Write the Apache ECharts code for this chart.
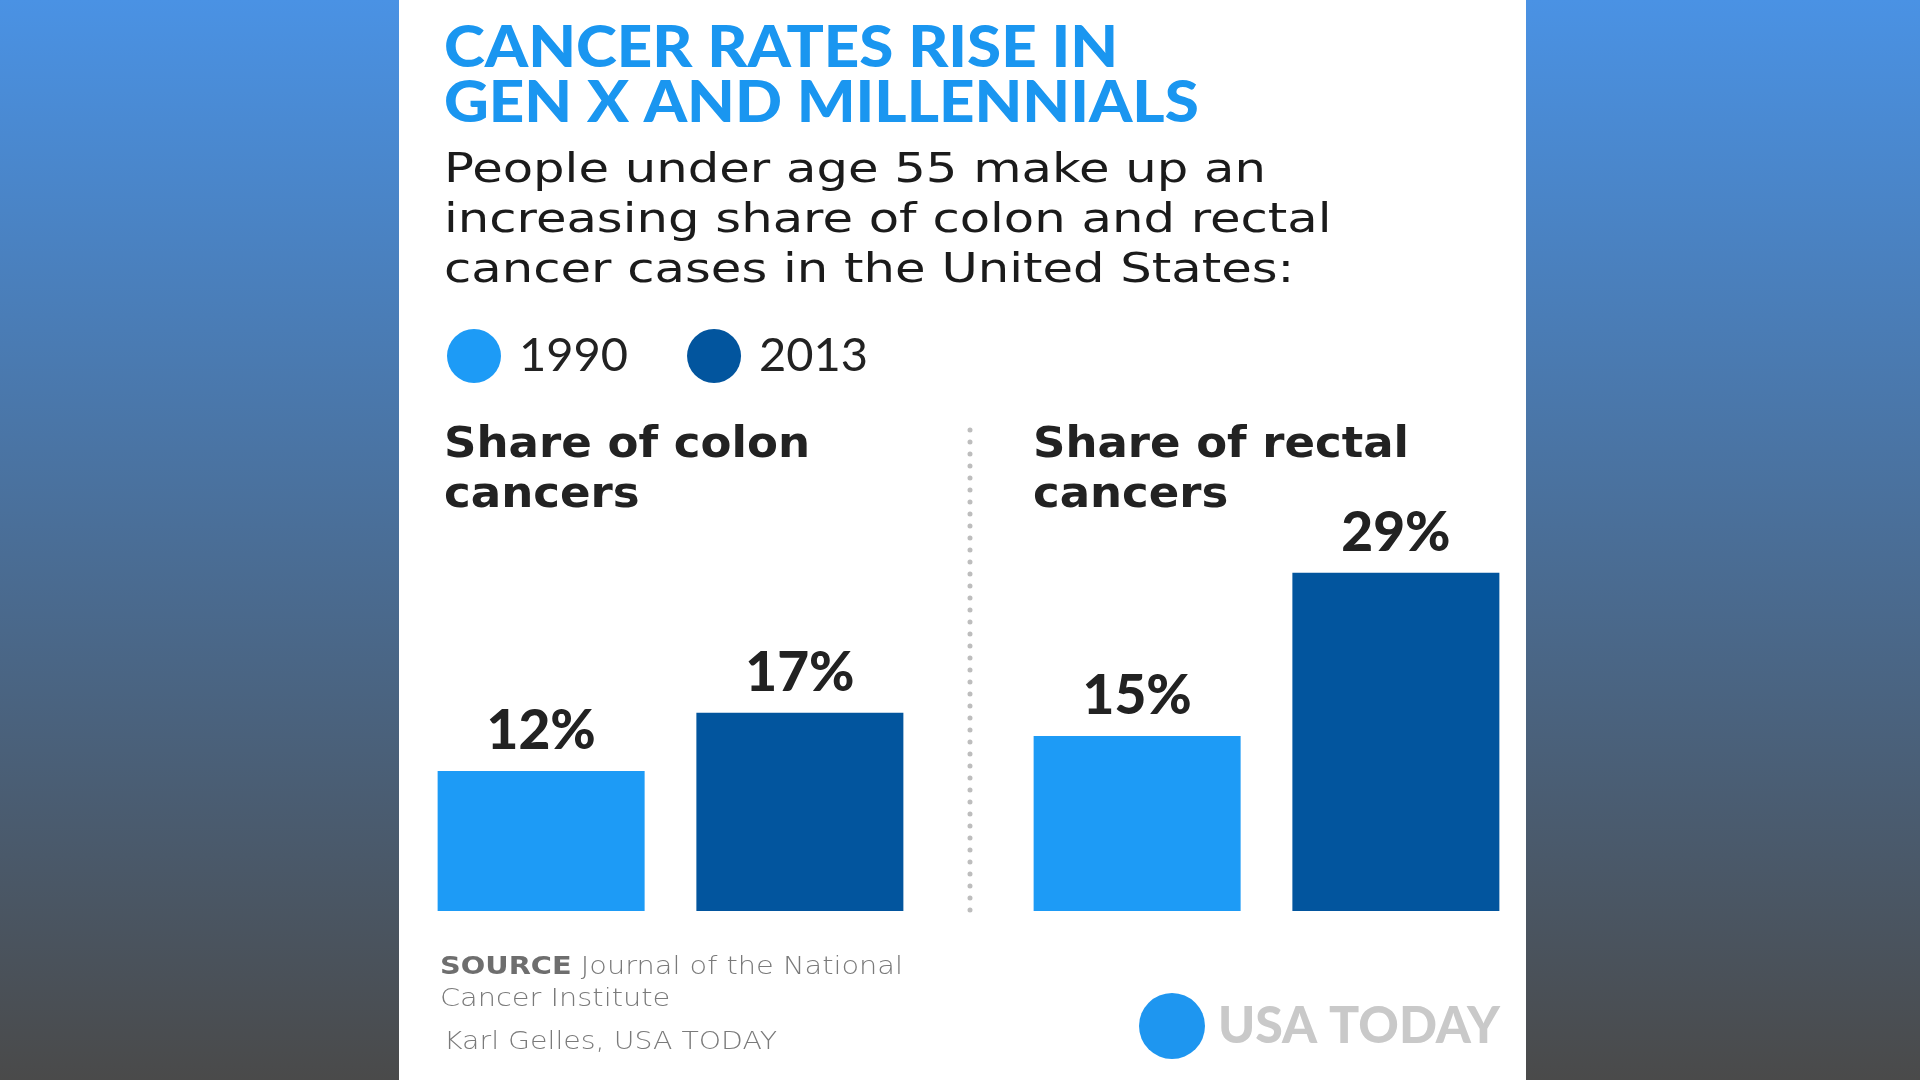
<!DOCTYPE html>
<html>
<head>
<meta charset="utf-8">
<script src="https://cdn.jsdelivr.net/npm/echarts@6/dist/echarts.min.js"></script>
<style>
html,body{margin:0;padding:0;width:1920px;height:1080px;overflow:hidden;background:linear-gradient(to bottom,#4a92e4 0%,#4a4a4a 100%);}
#chart{width:1920px;height:1080px;}
</style>
</head>
<body>
<div id="chart"></div>
<script>
const years = ['1990', '2013'];
const titleLines = ['CANCER RATES RISE IN', 'GEN X AND MILLENNIALS'];
const subtitleLines = ['People under age 55 make up an', 'increasing share of colon and rectal', 'cancer cases in the United States:'];
const panelTitles = [['Share of colon', 'cancers'], ['Share of rectal', 'cancers']];
const colon = [12, 17];
const rectal = [15, 29];
const colors = ['#1d9bf6', '#02559e'];

const lato = 'Lato, "Open Sans", sans-serif';
const dv = '"DejaVu Sans", Lato, sans-serif';

const mctx = document.createElement('canvas').getContext('2d');
function widthOf(text, font) { mctx.font = font; return mctx.measureText(text).width; }
function fitScale(text, font, target) { return target / widthOf(text, font); }

const chart = echarts.init(document.getElementById('chart'));

function barSeries(name, value, gridIdx, color) {
  return {
    name: name, type: 'bar', xAxisIndex: gridIdx, yAxisIndex: gridIdx,
    data: [value], barWidth: 207, barGap: '25%',
    itemStyle: { color: color },
    label: { show: true, position: 'top', distance: 12, formatter: '{c}%',
      fontFamily: lato, fontWeight: 900, fontSize: 55, color: '#222' },
    silent: true
  };
}

function textBlock(lines, x, y, font, fill, lineHeight, targetWidth) {
  const s = fitScale(lines[0], font, targetWidth);
  return { type: 'text', x: x, y: y, scaleX: s,
    style: { text: lines.join('\n'), font: font, fill: fill, lineHeight: lineHeight, verticalAlign: 'top', align: 'left' } };
}

const titleFont = '900 57px ' + lato;
const subFont = '400 40px ' + dv;
const panelFont = 'bold 43px ' + dv;
const srcBold = 'bold 25px ' + dv;
const srcLight = '200 25px ' + dv;
const srcScale = 463 / (widthOf('SOURCE', srcBold) + widthOf(' Journal of the National', srcLight));
const karlScale = fitScale('Karl Gelles, USA TODAY', srcLight, 333);
const logoFont = '900 51px ' + lato;

const option = {
  backgroundColor: 'transparent',
  animation: false,
  legend: {
    data: years, left: 442, top: 324, icon: 'circle',
    itemWidth: 54, itemHeight: 54, itemGap: 59,
    textStyle: { fontFamily: lato, fontSize: 47, color: '#222', padding: [0, 0, 0, 13] }
  },
  grid: [
    { left: 411, width: 519, top: 561, height: 350 },
    { left: 1007, width: 519, top: 561, height: 350 }
  ],
  xAxis: [
    { gridIndex: 0, type: 'category', data: ['colon'], show: false },
    { gridIndex: 1, type: 'category', data: ['rectal'], show: false }
  ],
  yAxis: [
    { gridIndex: 0, type: 'value', min: 0, max: 30, show: false },
    { gridIndex: 1, type: 'value', min: 0, max: 30, show: false }
  ],
  series: [
    barSeries(years[0], colon[0], 0, colors[0]),
    barSeries(years[1], colon[1], 0, colors[1]),
    barSeries(years[0], rectal[0], 1, colors[0]),
    barSeries(years[1], rectal[1], 1, colors[1])
  ],
  graphic: [
    { type: 'rect', z: -20, shape: { x: 399, y: 0, width: 1127, height: 1080 }, style: { fill: '#ffffff' } },
    textBlock(titleLines, 444, 21, titleFont, '#1a96f0', 55, 674),
    textBlock(subtitleLines, 444, 147, subFont, '#1b1b1b', 50, 822),
    textBlock(panelTitles[0], 444, 421, panelFont, '#222', 50, 366),
    textBlock(panelTitles[1], 1033, 421, panelFont, '#222', 50, 376),
    { type: 'line', shape: { x1: 970, y1: 430, x2: 970, y2: 912 }, style: { stroke: '#bdbdbd', lineWidth: 5, lineDash: [0, 12], lineCap: 'round' } },
    { type: 'text', x: 440, y: 951, scaleX: srcScale, style: {
      rich: { b: { font: srcBold, fill: '#6e6e6e' }, n: { font: srcLight, fill: '#7a7a7a' } },
      text: '{b|SOURCE}{n| Journal of the National}\n{n|Cancer Institute}', lineHeight: 32, verticalAlign: 'top', align: 'left' } },
    { type: 'text', x: 444, y: 1030, scaleX: karlScale, style: { text: 'Karl Gelles, USA TODAY', font: srcLight, fill: '#7a7a7a', verticalAlign: 'top', align: 'left' } },
    { type: 'circle', shape: { cx: 1172, cy: 1026, r: 33 }, style: { fill: '#1e96f0' } },
    { type: 'text', x: 1218, y: 1027, scaleX: fitScale('USA TODAY', logoFont, 282), style: { text: 'USA TODAY', font: logoFont, fill: '#c9c9c9', verticalAlign: 'middle', align: 'left' } }
  ]
};
chart.setOption(option);
</script>
</body>
</html>
